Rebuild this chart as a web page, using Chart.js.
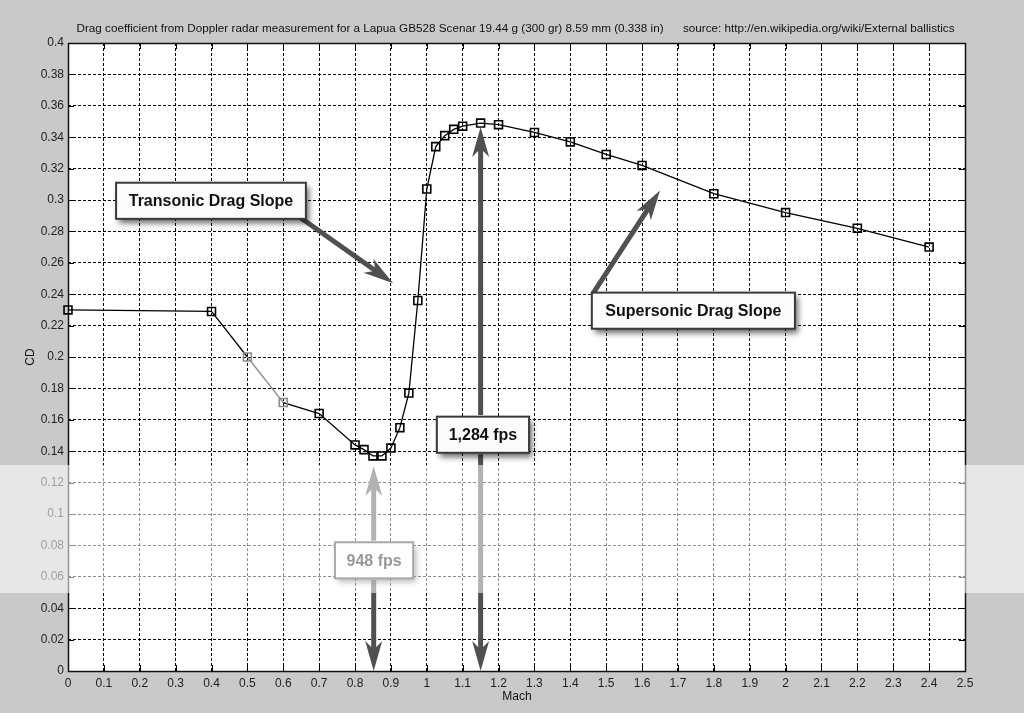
<!DOCTYPE html>
<html>
<head>
<meta charset="utf-8">
<script src="https://cdn.jsdelivr.net/npm/chart.js@4/dist/chart.umd.min.js"></script>
<style>
  html, body { margin: 0; padding: 0; background: #c9c9c9; }
  #wrap { width: 1024px; height: 713px; }
</style>
</head>
<body>
<div id="wrap"><canvas id="c" width="1024" height="713"></canvas></div>
<script>
// ---- data ----
const mach = [0, 0.4, 0.5, 0.6, 0.7, 0.8, 0.825, 0.85, 0.875, 0.9, 0.925, 0.95, 0.975, 1.0, 1.025, 1.05, 1.075, 1.1, 1.15, 1.2, 1.3, 1.4, 1.5, 1.6, 1.8, 2.0, 2.2, 2.4];
const cd   = [0.230, 0.229, 0.200, 0.171, 0.164, 0.144, 0.141, 0.137, 0.137, 0.142, 0.155, 0.177, 0.236, 0.307, 0.334, 0.341, 0.345, 0.347, 0.349, 0.348, 0.343, 0.337, 0.329, 0.322, 0.304, 0.292, 0.282, 0.270];
const titleText = 'Drag coefficient from Doppler radar measurement for a Lapua GB528 Scenar 19.44 g (300 gr) 8.59 mm (0.338 in)      source: http://en.wikipedia.org/wiki/External ballistics';
const xLabel = 'Mach';
const yLabel = 'CD';
const noteTexts = ['Transonic Drag Slope', 'Supersonic Drag Slope', '1,284 fps', '948 fps'];
// annotation anchors in data coordinates (mach, cd)
const noteBoxes = [
  [0.134, 0.311, 0.663, 0.288],
  [1.460, 0.241, 2.026, 0.218],
  [1.028, 0.162, 1.285, 0.139],
  [0.744, 0.082, 0.962, 0.059]
];
const noteArrows = [
  [[0.640, 0.290, 0.906, 0.247]],
  [[1.462, 0.240, 1.650, 0.306]],
  [[1.150, 0.163, 1.150, 0.3465], [1.150, 0.138, 1.150, 0.0]],
  [[0.852, 0.083, 0.852, 0.1306], [0.852, 0.058, 0.852, 0.0]]
];

const FONT = '"Liberation Sans", Arial, sans-serif';

function fmt(v, d) { return String(Number(v.toFixed(d))); }

function drawArrow(ctx, x1, y1, x2, y2) {
  const dx = x2 - x1, dy = y2 - y1;
  const L = Math.hypot(dx, dy);
  const ux = dx / L, uy = dy / L;
  const px = -uy, py = ux;
  const hl = 30, hw = 8.5;
  ctx.save();
  ctx.strokeStyle = '#505050';
  ctx.fillStyle = '#505050';
  ctx.lineWidth = 5;
  ctx.lineCap = 'butt';
  ctx.beginPath();
  ctx.moveTo(x1, y1);
  ctx.lineTo(x2 - ux * hl * 0.7, y2 - uy * hl * 0.7);
  ctx.stroke();
  ctx.beginPath();
  ctx.moveTo(x2, y2);
  ctx.lineTo(x2 - ux * hl + px * hw, y2 - uy * hl + py * hw);
  ctx.lineTo(x2 - ux * hl * 0.72, y2 - uy * hl * 0.72);
  ctx.lineTo(x2 - ux * hl - px * hw, y2 - uy * hl - py * hw);
  ctx.closePath();
  ctx.fill();
  ctx.restore();
}

const framePlugin = {
  id: 'frame',
  beforeDraw(chart) {
    const { ctx, chartArea: a } = chart;
    ctx.save();
    ctx.fillStyle = '#c9c9c9';
    ctx.fillRect(0, 0, chart.width, chart.height);
    ctx.fillStyle = '#ffffff';
    ctx.fillRect(a.left, a.top, a.right - a.left, a.bottom - a.top);
    ctx.restore();
  },
  beforeDatasetsDraw(chart) {
    const { ctx, chartArea: a, scales: { x, y } } = chart;
    ctx.save();
    // inward tick marks
    ctx.strokeStyle = '#000';
    ctx.lineWidth = 1;
    ctx.beginPath();
    x.ticks.forEach(t => {
      const px = Math.round(x.getPixelForValue(t.value)) + 0.5;
      ctx.moveTo(px, a.bottom); ctx.lineTo(px, a.bottom - 6);
      ctx.moveTo(px, a.top); ctx.lineTo(px, a.top + 6);
    });
    y.ticks.forEach(t => {
      const py = Math.round(y.getPixelForValue(t.value)) + 0.5;
      ctx.moveTo(a.left, py); ctx.lineTo(a.left + 6, py);
      ctx.moveTo(a.right, py); ctx.lineTo(a.right - 6, py);
    });
    ctx.stroke();
    // frame
    ctx.strokeStyle = '#111';
    ctx.lineWidth = 1.5;
    ctx.strokeRect(Math.round(a.left) + 0.5, Math.round(a.top) + 0.5, Math.round(a.right - a.left), Math.round(a.bottom - a.top));
    ctx.restore();
  },
  afterDatasetsDraw(chart) {
    const { ctx, chartArea: a, scales: { x, y } } = chart;
    ctx.save();
    // annotations
    noteArrows.forEach(list => list.forEach(ar => {
      drawArrow(ctx, x.getPixelForValue(ar[0]), y.getPixelForValue(ar[1]), x.getPixelForValue(ar[2]), y.getPixelForValue(ar[3]));
    }));
    noteBoxes.forEach((b, i) => {
      const l = x.getPixelForValue(b[0]), t = y.getPixelForValue(b[1]);
      const r = x.getPixelForValue(b[2]), btm = y.getPixelForValue(b[3]);
      ctx.save();
      ctx.shadowColor = 'rgba(0,0,0,0.6)';
      ctx.shadowBlur = 6;
      ctx.shadowOffsetX = 3;
      ctx.shadowOffsetY = 4;
      ctx.fillStyle = '#fbfbfb';
      ctx.fillRect(l, t, r - l, btm - t);
      ctx.restore();
      ctx.save();
      ctx.strokeStyle = '#3a3a3a';
      ctx.lineWidth = 2;
      ctx.strokeRect(l, t, r - l, btm - t);
      ctx.fillStyle = '#111';
      ctx.font = 'bold 16px ' + FONT;
      ctx.textAlign = 'center';
      ctx.textBaseline = 'middle';
      ctx.fillText(noteTexts[i], (l + r) / 2, (t + btm) / 2 + 1);
      ctx.restore();
    });

    // title and axis titles
    ctx.fillStyle = '#111';
    ctx.font = '11.7px ' + FONT;
    ctx.textAlign = 'center';
    ctx.textBaseline = 'middle';
    ctx.fillText(titleText, 515.5, 29);
    ctx.font = '12px ' + FONT;
    ctx.fillText(xLabel, 517, 697);
    ctx.translate(31, (a.top + a.bottom) / 2);
    ctx.rotate(-Math.PI / 2);
    ctx.fillText(yLabel, 0, 0);
    ctx.restore();
  },
  afterDraw(chart) {
    const ctx = chart.ctx;
    ctx.save();
    ctx.fillStyle = 'rgba(255,255,255,0.56)';
    ctx.fillRect(0, 465, chart.width, 128);
    ctx.restore();
  }
};

const gridCommon = {
  color: '#000',
  lineWidth: 1,
  drawTicks: false
};

new Chart(document.getElementById('c'), {
  type: 'line',
  data: {
    datasets: [{
      data: mach.map((m, i) => ({ x: m, y: cd[i] })),
      borderColor: '#000',
      borderWidth: 1.3,
      pointStyle: 'rect',
      pointRadius: 5.6,
      pointBorderWidth: 1.6,
      pointBorderColor: mach.map(m => (m === 0.5 || m === 0.6) ? '#8a8a8a' : '#000'),
      pointBackgroundColor: 'rgba(255,255,255,0)',
      segment: {
        borderColor: c => (c.p0DataIndex === 2) ? '#8a8a8a' : '#000'
      },
      tension: 0,
      fill: false,
      clip: false
    }]
  },
  options: {
    responsive: false,
    animation: false,
    layout: { padding: { left: 0, right: 59, top: 43, bottom: 0 } },
    plugins: { legend: { display: false }, tooltip: { enabled: false }, title: { display: false } },
    scales: {
      x: {
        type: 'linear', min: 0, max: 2.5,
        afterFit(s) { s.height = 42; },
        ticks: { stepSize: 0.1, padding: 5, autoSkip: false, maxRotation: 0, color: '#222', font: { family: FONT, size: 12 }, callback: v => fmt(v, 1) },
        grid: gridCommon,
        border: { display: false, dash: [3, 2] }
      },
      y: {
        type: 'linear', min: 0, max: 0.4,
        afterFit(s) { s.width = 68; },
        ticks: { stepSize: 0.02, padding: 4, autoSkip: false, color: '#222', font: { family: FONT, size: 12 }, callback: v => fmt(v, 2) },
        grid: gridCommon,
        border: { display: false, dash: [3, 2] }
      }
    }
  },
  plugins: [framePlugin]
});
</script>
</body>
</html>
